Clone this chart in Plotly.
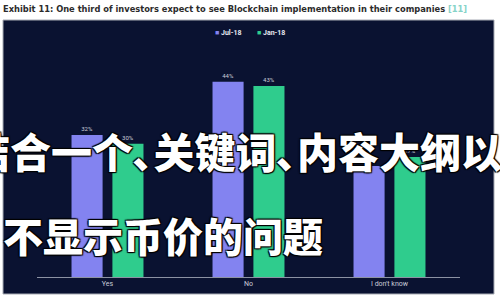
import plotly.graph_objects as go

# Survey answers and shares (%) for the two polling waves
categories = ["Yes", "No", "I don't know"]
jul_18 = [32, 44, 25]
jan_18 = [30, 43, 27]
series_names = ["Jul-18", "Jan-18"]

title_text = "Exhibit 11: One third of investors expect to see Blockchain implementation in their companies"
title_ref = "[11]"
overlay_line1 = "结合一个､关键词､内容大纲以"
overlay_line2 = "不显示币价的问题"

JUL_COLOR = "#8383f0"
JAN_COLOR = "#2fcc8d"
PANEL = "#0a1231"
LABEL = "#c9ccd8"

# plot-area geometry in pixels (used to express paper coordinates)
W, H = 500, 300
L, R, T, B = 37, 40, 55, 23
pw, ph = W - L - R, H - T - B


def px(x):
    return (x - L) / pw


def py(y):
    return (H - B - y) / ph


fig = go.Figure()
for name, vals, col in [(series_names[0], jul_18, JUL_COLOR), (series_names[1], jan_18, JAN_COLOR)]:
    fig.add_trace(go.Bar(
        x=categories, y=vals, name=name, marker=dict(color=col, line=dict(width=0)),
        text=[f"{v}%" for v in vals], textposition="outside",
        textfont=dict(size=6, color=LABEL, family="Roboto"),
        cliponaxis=False, showlegend=False,
    ))

fig.add_shape(type="rect", xref="paper", yref="paper",
              x0=px(3), x1=px(494), y0=py(294), y1=py(20),
              fillcolor=PANEL, line=dict(color="#a7abb4", width=1), layer="below")

annotations = [
    dict(x=px(228), y=py(33), text=f"<span style='color:{JUL_COLOR}'>■</span> <b>{series_names[0]}</b>"),
    dict(x=px(271), y=py(33), text=f"<span style='color:{JAN_COLOR}'>■</span> <b>{series_names[1]}</b>"),
]
for a in annotations:
    a.update(xref="paper", yref="paper", showarrow=False, xanchor="center", yanchor="middle",
             font=dict(size=7, color="#e6e8f0", family="Roboto"))

shadow = "1px 1px 1px #000, -1px -1px 1px #000, 1px -1px 1px #000, -1px 1px 1px #000"
overlays = [
    dict(x=px(-33), y=py(150), text=overlay_line1, font=dict(size=41)),
    dict(x=px(1), y=py(235), text=overlay_line2, font=dict(size=40)),
]
for a in overlays:
    a.update(xref="paper", yref="paper", showarrow=False, xanchor="left", yanchor="middle")
    a["font"].update(family="Noto Sans CJK SC", color="#ffffff", weight=900, shadow=shadow)
annotations += overlays

fig.update_layout(
    width=W, height=H,
    margin=dict(l=L, r=R, t=T, b=B),
    paper_bgcolor="#ffffff", plot_bgcolor="rgba(0,0,0,0)",
    barmode="group", bargap=0.42, bargroupgap=0.24,
    title=dict(
        text=f"<b>{title_text} <span style='color:#86d3c8'>{title_ref}</span></b>",
        x=3 / W, xanchor="left", y=1 - 9 / H, yanchor="middle",
        font=dict(size=8.3, color="#2b2b2b", family="DejaVu Sans"),
    ),
    xaxis=dict(showline=True, linecolor="#8c92a3", linewidth=1, ticks="",
               tickfont=dict(size=7, color=LABEL, family="Roboto"), showgrid=False),
    yaxis=dict(range=[0, 50], visible=False),
    annotations=annotations,
)

fig.write_html("out.html")
